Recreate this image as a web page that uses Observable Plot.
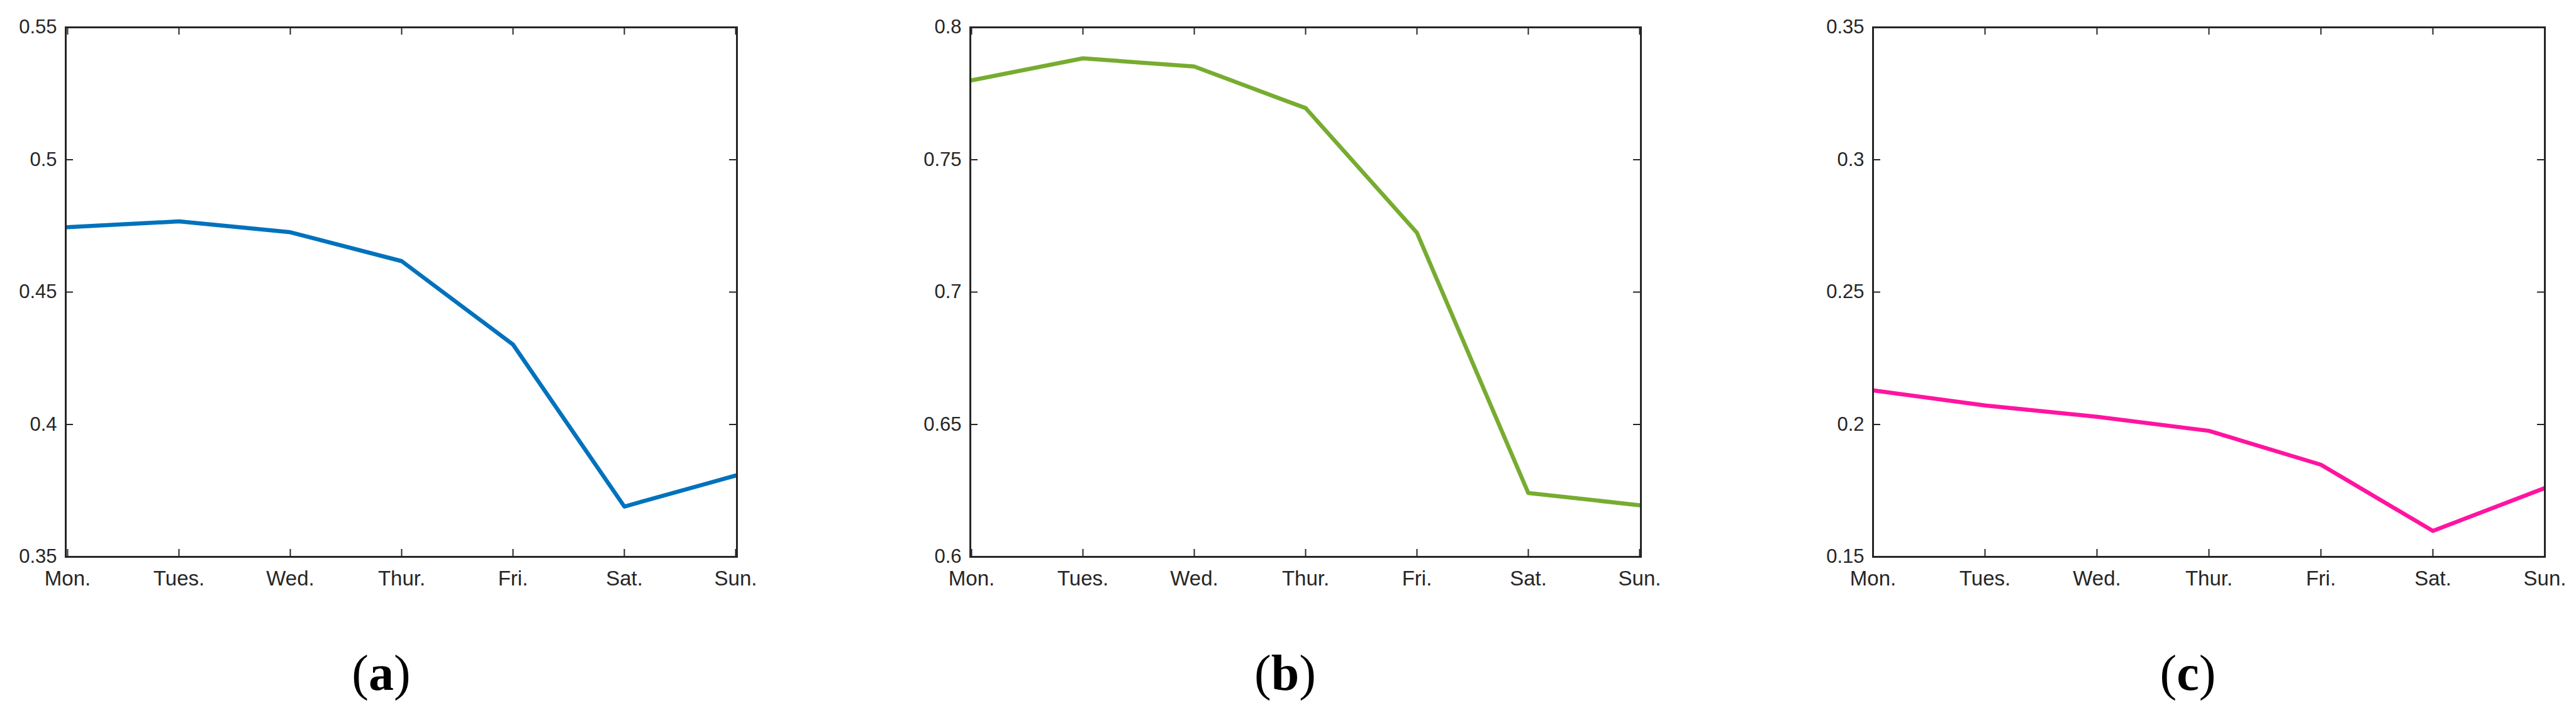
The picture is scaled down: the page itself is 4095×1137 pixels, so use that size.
<!DOCTYPE html>
<html>
<head>
<meta charset="utf-8">
<script src="https://cdn.jsdelivr.net/npm/d3@7"></script>
<script src="https://cdn.jsdelivr.net/npm/@observablehq/plot@0.6"></script>
<style>
  html, body { margin: 0; padding: 0; background: #ffffff; }
  #root { position: relative; width: 4095px; height: 1137px; background: #ffffff; overflow: hidden; }
  .panel { position: absolute; top: 0; }
  .cap { position: absolute; font-family: "Liberation Serif", "Times New Roman", serif; font-size: 80px; line-height: 80px; color: #000; transform: translateX(-50%); white-space: nowrap; }
  .cap b { font-weight: bold; }
</style>
</head>
<body>
<div id="root"></div>
<script>
// ---- data ----
const days = ["Mon.", "Tues.", "Wed.", "Thur.", "Fri.", "Sat.", "Sun."];

const valuesA = [0.4745, 0.4767, 0.4726, 0.4617, 0.4302, 0.3690, 0.3807];
const valuesB = [0.7800, 0.7883, 0.7852, 0.7695, 0.7224, 0.6241, 0.6195];
const valuesC = [0.2129, 0.2072, 0.2029, 0.1976, 0.1848, 0.1598, 0.1760];

const ticksA = [0.35, 0.40, 0.45, 0.50, 0.55];
const ticksB = [0.60, 0.65, 0.70, 0.75, 0.80];
const ticksC = [0.15, 0.20, 0.25, 0.30, 0.35];

const captions = ["a", "b", "c"];

// ---- layout / style ----
const ink = "#262626";
const H = 960, MT = 43, MB = 75;
const TICK = 12;

const panels = [
  { values: valuesA, ticks: ticksA, color: "#0072BD", left: 0,    width: 1200, ml: 104, mr: 29, capX: 606 },
  { values: valuesB, ticks: ticksB, color: "#77AC30", left: 1400, width: 1240, ml: 142, mr: 32, capX: 2043 },
  { values: valuesC, ticks: ticksC, color: "#FF14A0", left: 2840, width: 1255, ml: 137, mr: 50, capX: 3478 }
];

const root = document.getElementById("root");
const fmt = d3.format("~g");

panels.forEach((p, k) => {
  const PW = p.width - p.ml - p.mr;
  const PH = H - MT - MB;
  const table = days.map((day, i) => ({ day, value: p.values[i] }));
  const chart = Plot.plot({
    width: p.width,
    height: H,
    marginLeft: p.ml,
    marginRight: p.mr,
    marginTop: MT,
    marginBottom: MB,
    x: { type: "point", domain: days, padding: 0, label: null },
    y: { domain: [p.ticks[0], p.ticks[p.ticks.length - 1]], label: null },
    style: { fontFamily: "'Liberation Sans', Arial, sans-serif", color: ink, background: "#ffffff", overflow: "visible" },
    marks: [
      Plot.ruleX(days, { x: d => d, insetTop: PH - TICK, stroke: ink, strokeWidth: 2 }),
      Plot.ruleX(days, { x: d => d, insetBottom: PH - TICK, stroke: ink, strokeWidth: 2 }),
      Plot.ruleY(p.ticks, { y: d => d, insetRight: PW - TICK, stroke: ink, strokeWidth: 2 }),
      Plot.ruleY(p.ticks, { y: d => d, insetLeft: PW - TICK, stroke: ink, strokeWidth: 2 }),
      Plot.line(table, { x: "day", y: "value", stroke: p.color, strokeWidth: 6.5, clip: true }),
      Plot.frame({ stroke: ink, strokeWidth: 3 }),
      Plot.axisX({ tickSize: 0, tickPadding: 22, fontSize: 33, label: null }),
      Plot.axisY({ ticks: p.ticks, tickSize: 0, tickPadding: 14, tickFormat: fmt, fontSize: 31, label: null })
    ]
  });
  const wrap = document.createElement("div");
  wrap.className = "panel";
  wrap.style.left = p.left + "px";
  wrap.appendChild(chart);
  root.appendChild(wrap);

  const cap = document.createElement("div");
  cap.className = "cap";
  cap.style.left = p.capX + "px";
  cap.style.top = "1030px";
  cap.innerHTML = "(<b>" + captions[k] + "</b>)";
  root.appendChild(cap);
});
</script>
</body>
</html>
